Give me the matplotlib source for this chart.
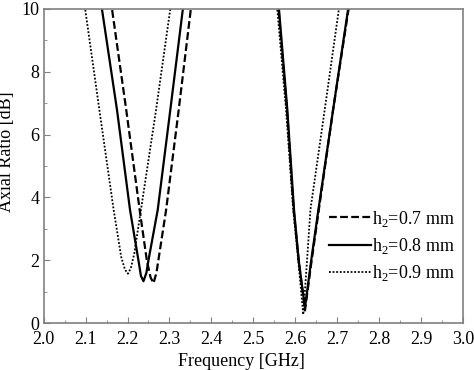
import numpy as np
import matplotlib
matplotlib.use('Agg')
import matplotlib.pyplot as plt
from matplotlib.ticker import MultipleLocator

plt.rcParams['font.family'] = ['Liberation Serif', 'DejaVu Serif']
plt.rcParams['mathtext.fontset'] = 'custom'
plt.rcParams['mathtext.rm'] = 'Liberation Serif'

nan = np.nan

# frequency [GHz] / axial ratio [dB], NaN separates the two dips
f_07 = [2.160, 2.163, 2.197, 2.229, 2.246, 2.255, 2.262, 2.269, 2.292, 2.322, 2.351, 2.354,
        nan,
        2.559, 2.560, 2.580, 2.596, 2.608, 2.623, 2.639, 2.656, 2.690, 2.727, 2.730]
ar_07 = [10.8, 10.0, 6.78, 3.6, 2.0, 1.45, 1.27, 1.6, 3.6, 6.78, 10.0, 10.8,
         nan,
         10.8, 10.0, 6.78, 3.6, 2.0, 0.40, 2.0, 3.6, 6.78, 10.0, 10.8]

f_08 = [2.136, 2.139, 2.175, 2.206, 2.226, 2.232, 2.238, 2.245, 2.250, 2.272, 2.302, 2.332, 2.335,
        nan,
        2.560, 2.561, 2.581, 2.597, 2.608, 2.623, 2.638, 2.655, 2.690, 2.726, 2.729]
ar_08 = [10.8, 10.0, 6.78, 3.6, 2.0, 1.5, 1.33, 1.6, 2.0, 3.6, 6.78, 10.0, 10.8,
         nan,
         10.8, 10.0, 6.78, 3.6, 2.0, 0.48, 2.0, 3.6, 6.78, 10.0, 10.8]

f_09 = [2.096, 2.099, 2.133, 2.167, 2.185, 2.194, 2.201, 2.208, 2.216, 2.232, 2.268, 2.302, 2.305,
        nan,
        2.556, 2.557, 2.578, 2.595, 2.607, 2.619, 2.628, 2.636, 2.670, 2.704, 2.707]
ar_09 = [10.8, 10.0, 6.78, 3.6, 2.1, 1.7, 1.57, 1.75, 2.2, 3.6, 6.78, 10.0, 10.8,
         nan,
         10.8, 10.0, 6.78, 3.6, 2.0, 0.27, 2.0, 3.6, 6.78, 10.0, 10.8]

labels = [r'h$_\mathregular{2}$=0.7 mm', r'h$_\mathregular{2}$=0.8 mm',
          r'h$_\mathregular{2}$=0.9 mm']

fig = plt.figure(figsize=(4.74, 3.70), dpi=100)
ax = fig.add_axes([0.092, 0.127, 0.885, 0.849])

ax.plot(f_07, ar_07, color='black', lw=1.6, ls=(0, (3.5, 1.5)), label=labels[0])
ax.plot(f_08, ar_08, color='black', lw=1.6, ls='-', label=labels[1])
ax.plot(f_09, ar_09, color='black', lw=1.3, ls=(0, (1, 1)), label=labels[2])

ax.set_xlim(2.0, 3.0)
ax.set_ylim(0, 10)
ax.xaxis.set_major_locator(MultipleLocator(0.1))
ax.xaxis.set_minor_locator(MultipleLocator(0.05))
ax.yaxis.set_major_locator(MultipleLocator(2))
ax.yaxis.set_minor_locator(MultipleLocator(1))
ax.tick_params(which='both', direction='in', color='#808080', labelsize=13)
ax.tick_params(axis='x', pad=6)
ax.tick_params(axis='y', pad=3)
ax.tick_params(which='major', length=4)
ax.tick_params(which='minor', length=2)
for s in ax.spines.values():
    s.set_color('#808080')
    s.set_linewidth(1.2)

ax.set_xlabel('Frequency [GHz]', fontsize=13)
ax.set_ylabel('Axial Ratio [dB]', fontsize=13)
ax.xaxis.set_label_coords(0.472, -0.095)
ax.yaxis.set_label_coords(-0.068, 0.545)

ax.legend(loc='lower right', bbox_to_anchor=(1.02, 0.075), frameon=False,
          fontsize=13, handlelength=2.3, handletextpad=0.1, labelspacing=0.4)

fig.savefig('out.png', dpi=100)
